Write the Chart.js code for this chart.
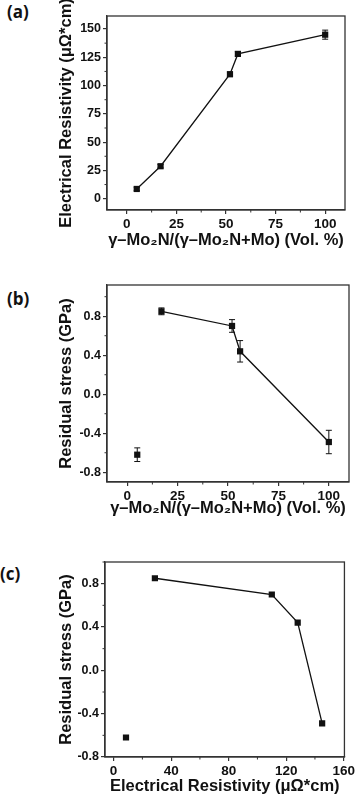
<!DOCTYPE html>
<html>
<head>
<meta charset="utf-8">
<script src="https://cdn.jsdelivr.net/npm/chart.js@4.4.1/dist/chart.umd.min.js"></script>
<style>
  html, body { margin: 0; padding: 0; background: #fff; }
  body { width: 357px; height: 797px; position: relative; overflow: hidden; }
  canvas { position: absolute; left: 0; }
  .lbl { position: absolute; font-family: "Open Sans"; font-weight: 700; font-size: 17px; color: #111; line-height: 1; }
</style>
</head>
<body>
<div class="lbl" style="left:7px;top:3px">(a)</div>
<div class="lbl" style="left:7px;top:290px">(b)</div>
<div class="lbl" style="left:0px;top:565px">(c)</div>
<canvas id="chartA" width="357" height="265" style="top:0px"></canvas>
<canvas id="chartB" width="357" height="265" style="top:265px"></canvas>
<canvas id="chartC" width="357" height="267" style="top:530px"></canvas>
<script>
// veriler
const volFraction = [5, 17, 52, 56, 100];          // γ-Mo2N / (γ-Mo2N+Mo), Vol. %
const resistivity = [8.6, 28.7, 110, 128, 145];    // μΩ*cm
const resistivityErr = [1.5, 1.5, 2, 2, 4];
const stress = [-0.62, 0.85, 0.70, 0.44, -0.49];   // GPa
const stressErr = [0.07, 0.035, 0.065, 0.11, 0.12];

const ticksVol = [0, 25, 50, 75, 100];
const ticksRes = [0, 25, 50, 75, 100, 125, 150];
const ticksStress = [-0.8, -0.4, 0.0, 0.4, 0.8];
const ticksResC = [0, 40, 80, 120, 160];

const titleVol = "γ–Mo₂N/(γ–Mo₂N+Mo) (Vol. %)";
const titleRes = "Electrical Resistivity (μΩ*cm)";
const titleStress = "Residual stress (GPa)";

const FONT = "'Liberation Sans', Arial, sans-serif";
const INK = "#111";
const FRAME = "#333";

// hata cubuklari
const errorBarPlugin = {
  id: "errorBars",
  afterDatasetsDraw(chart, args, opts) {
    if (!opts || !opts.err) return;
    const ctx = chart.ctx;
    const x = chart.scales.x, y = chart.scales.y;
    ctx.save();
    ctx.strokeStyle = INK;
    ctx.lineWidth = 1;
    opts.xs.forEach((xv, i) => {
      const px = x.getPixelForValue(xv);
      const top = y.getPixelForValue(opts.ys[i] + opts.err[i]);
      const bot = y.getPixelForValue(opts.ys[i] - opts.err[i]);
      ctx.beginPath();
      ctx.moveTo(px, top); ctx.lineTo(px, bot);
      ctx.moveTo(px - 3, top); ctx.lineTo(px + 3, top);
      ctx.moveTo(px - 3, bot); ctx.lineTo(px + 3, bot);
      ctx.stroke();
    });
    ctx.restore();
  }
};

// cerceve + ara tick'ler
const framePlugin = {
  id: "frame",
  afterDraw(chart) {
    const ctx = chart.ctx, a = chart.chartArea;
    ctx.save();
    ctx.strokeStyle = FRAME;
    ctx.lineWidth = 1.3;
    ctx.strokeRect(a.left, a.top, a.right - a.left, a.bottom - a.top);
    ctx.lineWidth = 1;
    ["x", "y"].forEach(id => {
      const s = chart.scales[id];
      const v = s.ticks.map(t => t.value);
      const step = v[1] - v[0];
      ctx.beginPath();
      for (let m = v[0] - step / 2; m <= s.max + 1e-9; m += step) {
        if (m < s.min - 1e-9) continue;
        const p = s.getPixelForValue(m);
        if (id === "x") { ctx.moveTo(p, a.bottom); ctx.lineTo(p, a.bottom + 2.5); }
        else { ctx.moveTo(a.left, p); ctx.lineTo(a.left - 2.5, p); }
      }
      ctx.stroke();
    });
    ctx.restore();
  }
};

Chart.register(errorBarPlugin, framePlugin);

function axis(min, max, ticks, fmt, title, titlePad, size, isY) {
  return {
    type: "linear",
    min: min,
    max: max,
    afterBuildTicks: s => { s.ticks = ticks.map(v => ({ value: v })); },
    afterFit: s => { if (isY) s.width = size; else s.height = size; },
    border: { color: FRAME, width: 1.3 },
    grid: { drawOnChartArea: false, drawTicks: true, tickLength: 4, color: FRAME, lineWidth: 1.2 },
    ticks: {
      padding: 2,
      color: INK,
      font: { family: FONT, weight: "bold", size: isY ? 12.5 : 13.5 },
      callback: v => fmt(v)
    },
    title: {
      display: true,
      text: title,
      color: INK,
      font: { family: FONT, weight: "bold", size: 16.5 },
      padding: titlePad
    }
  };
}

function pts(xs, ys) {
  return xs.map((x, i) => ({ x: x, y: ys[i] }));
}

function lineSet(data, showLine) {
  return {
    data: data,
    showLine: showLine,
    borderColor: INK,
    borderWidth: 1.3,
    backgroundColor: INK,
    pointStyle: "rect",
    pointRadius: 4.4,
    pointBorderWidth: 0,
    pointBackgroundColor: INK,
    tension: 0
  };
}

function makeChart(id, datasets, pad, xAxis, yAxis, err) {
  return new Chart(document.getElementById(id), {
    type: "scatter",
    data: { datasets: datasets },
    options: {
      responsive: false,
      animation: false,
      devicePixelRatio: 1,
      layout: { padding: pad },
      plugins: { legend: { display: false }, tooltip: { enabled: false }, errorBars: err },
      scales: { x: xAxis, y: yAxis }
    }
  });
}

const f0 = v => String(v);
const f1 = v => v.toFixed(1);

// (a) direnc - hacim orani
makeChart("chartA",
  [lineSet(pts(volFraction, resistivity), true)],
  { top: 16, right: 12, left: 0, bottom: 0 },
  axis(-10, 110, ticksVol, f0, titleVol, { top: 0, bottom: 15 }, 55, false),
  axis(-10, 161.5, ticksRes, f0, titleRes, { top: 56.5, bottom: 0 }, 107, true),
  { xs: volFraction, ys: resistivity, err: resistivityErr });

// (b) gerilme - hacim orani (ilk nokta cizgiye bagli degil)
makeChart("chartB",
  [lineSet(pts(volFraction.slice(0, 1), stress.slice(0, 1)), false),
   lineSet(pts(volFraction.slice(1), stress.slice(1)), true)],
  { top: 20, right: 8, left: 0, bottom: 0 },
  axis(-10, 110, ticksVol, f0, titleVol, { top: 0, bottom: 12 }, 48, false),
  axis(-0.9, 1.12, ticksStress, f1, titleStress, { top: 56.5, bottom: 0 }, 107, true),
  { xs: volFraction, ys: stress, err: stressErr });

// (c) gerilme - direnc
makeChart("chartC",
  [lineSet(pts(resistivity.slice(0, 1), stress.slice(0, 1)), false),
   lineSet(pts(resistivity.slice(1), stress.slice(1)), true)],
  { top: 32, right: 9, left: 0, bottom: 0 },
  axis(-6, 160.5, ticksResC, f0, titleRes, { top: 0, bottom: 0.5 }, 40, false),
  axis(-0.8, 1.0, ticksStress, f1, titleStress, { top: 56.5, bottom: 0 }, 105, true),
  null);
</script>
</body>
</html>
